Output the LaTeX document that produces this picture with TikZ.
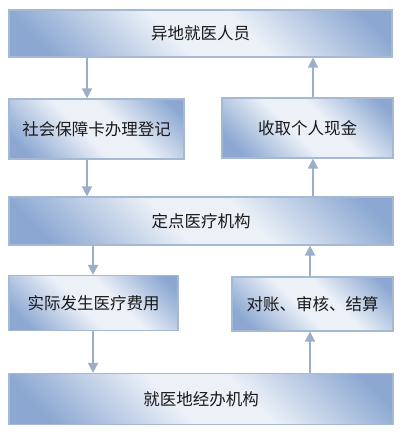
\documentclass[tikz,border=0pt]{standalone}
\usepackage{fontspec}
\newfontfamily\cjk{Noto Sans CJK SC}
\usetikzlibrary{arrows.meta}
\definecolor{boxblue}{RGB}{140,168,210}
\definecolor{boxlight}{RGB}{236,241,248}
\definecolor{boxline}{RGB}{165,185,210}
\definecolor{arrowblue}{RGB}{155,175,200}
\definecolor{textgray}{RGB}{25,25,25}
\pgfdeclarehorizontalshading{boxshade}{100bp}{color(0bp)=(boxblue); color(22bp)=(boxblue); color(45bp)=(boxlight); color(58bp)=(boxlight); color(80bp)=(boxblue); color(100bp)=(boxblue)}
\tikzstyle{box} = [rectangle, draw=boxline, line width=1.2pt, shading=boxshade, shading angle=45, text=textgray, font=\cjk\fontsize{16.5}{19}\selectfont, text centered, inner sep=0pt]
\tikzstyle{arrow} = [line width=1.6pt, draw=arrowblue, -{Triangle[length=10pt,width=10pt]}, arrowblue]

\begin{document}
\begin{tikzpicture}[x=1pt,y=-1pt]
            \useasboundingbox (0,0) rectangle (406,436);
            \node (person) [box, minimum width=383pt, minimum height=47pt] at (200.5,33.5) {异地就医人员};
            \node (card)   [box, minimum width=175pt, minimum height=60pt] at (96.5,129)  {社会保障卡办理登记};
            \node (cash)   [box, minimum width=171pt, minimum height=60pt] at (307.5,128) {收取个人现金};
            \node (hosp)   [box, minimum width=384pt, minimum height=48pt] at (201,221)   {定点医疗机构};
            \node (cost)   [box, minimum width=169pt, minimum height=55pt] at (93.5,303)  {实际发生医疗费用};
            \node (check)  [box, minimum width=161pt, minimum height=54pt] at (312.5,304) {对账、审核、结算};
            \node (agency) [box, minimum width=384pt, minimum height=51pt] at (201,399)   {就医地经办机构};

            \coordinate (upleft)   at (87,0);
            \coordinate (upright)  at (313,0);
            \coordinate (lowleft)  at (93,0);
            \coordinate (lowright) at (310,0);

            \draw [arrow] (person.south -| upleft)   -- (card.north -| upleft);
            \draw [arrow] (card.south -| upleft)     -- (hosp.north -| upleft);
            \draw [arrow] (hosp.north -| upright)    -- (cash.south -| upright);
            \draw [arrow] (cash.north -| upright)    -- (person.south -| upright);
            \draw [arrow] (hosp.south -| lowleft)    -- (cost.north -| lowleft);
            \draw [arrow] (cost.south -| lowleft)    -- (agency.north -| lowleft);
            \draw [arrow] (agency.north -| lowright) -- (check.south -| lowright);
            \draw [arrow] (check.north -| lowright)  -- (hosp.south -| lowright);
        \end{tikzpicture}
\end{document}
